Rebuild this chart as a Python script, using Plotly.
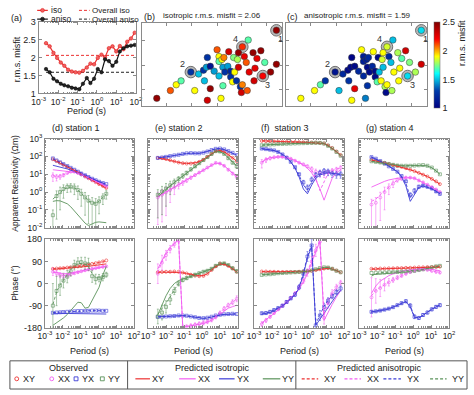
import plotly.graph_objects as go

W, H = 474, 395
FONT = "Liberation Sans, Arial, sans-serif"

# ---------------- panel (a): misfit vs period ----------------
MISFIT_PERIOD = [0.0024, 0.0037, 0.0058, 0.0089, 0.0138, 0.021, 0.033, 0.051, 0.079, 0.123,
                 0.19, 0.30, 0.46, 0.71, 1.1, 1.7, 2.6, 4.1, 6.3, 9.8, 15, 23, 36, 56, 87]
MISFIT_ISO = [2.40, 2.31, 2.13, 1.99, 1.86, 1.77, 1.66, 1.61, 1.59, 1.58, 1.63, 1.72, 1.83, 1.81,
              1.99, 2.08, 2.01, 2.26, 2.31, 2.17, 2.32, 2.23, 2.44, 2.53, 2.69]
MISFIT_ANISO = [1.68, 1.59, 1.41, 1.34, 1.27, 1.23, 1.20, 1.16, 1.14, 1.12, 1.27, 1.43, 1.29, 1.41,
                1.68, 1.59, 1.95, 1.90, 1.77, 1.88, 2.17, 2.26, 2.31, 2.33, 2.35]
OVERALL_ISO = 2.06
OVERALL_ANISO = 1.59

# ---------------- panels (b),(c): station maps ----------------
STA_X = [7, 21, 27, 32, 42, 46, 50, 55, 56, 58, 59, 62, 62, 59, 66, 69, 71, 71, 71, 73,
         74, 75, 75, 76, 77, 80, 81, 83, 83, 85, 86, 87, 89, 90, 91, 91, 93, 94, 95, 95,
         97, 99, 100, 101, 102, 106, 107, 108, 110, 114, 116, 118, 124, 130, 130]
STA_Y = [8, 16, 22, 26, 35, 16, 33, 37, 26, 40, 50, 41, 18, 6, 36, 58, 51, 46, 31, 8,
         48, 40, 21, 50, 35, 41, 56, 36, 30, 25, 50, 35, 26, 48, 55, 40, 20, 14, 22, 61,
         51, 45, 16, 68, 35, 55, 26, 39, 49, 57, 31, 45, 35, 43, 78]
STA_MISFIT_ISO = [2.45, 2.1, 1.9, 1.7, 1.25, 1.9, 1.5, 1.25, 1.5, 1.45, 1.25, 1.1, 2.45, 2.3, 1.45,
                  2.1, 1.9, 1.7, 1.5, 1.9, 1.9, 1.45, 1.7, 2.05, 1.25, 1.45, 2.3, 1.2, 1.25, 1.9,
                  1.75, 1.9, 1.25, 1.8, 2.45, 2.3, 1.25, 2.3, 2.05, 2.15, 2.25, 2.1, 2.1, 1.7, 2.25,
                  2.45, 2.3, 2.25, 2.25, 2.45, 2.2, 1.7, 2.45, 2.45, 2.45]
STA_MISFIT_ANISO = [1.9, 1.9, 1.7, 1.25, 1.1, 1.5, 1.2, 1.05, 1.25, 1.05, 1.02, 1.05, 2.25, 1.9, 1.2,
                    1.9, 1.15, 1.15, 1.2, 1.4, 1.15, 1.05, 1.25, 1.2, 1.05, 1.2, 1.9, 1.05, 1.05, 1.7,
                    1.05, 1.5, 1.9, 1.85, 1.9, 1.5, 1.8, 1.05, 1.9, 1.85, 1.2, 1.5, 1.8, 1.5, 1.9,
                    1.8, 1.9, 1.9, 1.7, 2.3, 1.55, 1.75, 1.8, 2.3, 1.55]
LABELLED_NAMES = ["1", "2", "3", "4"]
LABELLED_INDEX = [54, 4, 50, 39]

# ---------------- MT responses ----------------
S1_T = [0.0028, 0.0045, 0.0071, 0.011, 0.018, 0.028, 0.045, 0.071, 0.11, 0.18, 0.28, 0.45, 0.71, 1.1, 1.8, 2.8]
S1_RHO_OBS = {"XY": [70, 55, 44, 34, 26, 20, 16, 12.5, 9.8, 7.5, 6.0, 4.6, 3.6, 2.8, 2.2, 1.7],
              "XX": [8, 7, 7.5, 9, 12, 14, 14, 12, 10, 8, 6.3, 5, 4, 3.2, 2.6, 2.1],
              "YX": [78, 60, 47, 37, 29, 23, 18, 14, 11, 8.8, 7.0, 5.6, 4.6, 3.8, 3.2, 2.8],
              "YY": [0.05, 0.6, 1.0, 1.5, 1.9, 2.0, 1.8, 1.3, 0.8, 0.5, 0.33, 0.25, 0.22, 0.3, 0.5, 0.8]}
S1_RHO_ERR = {"XX": [0.5, 0.4, 0.3, 0.2, 0.15, 0.1, 0.1, 0.1, 0.1, 0.1, 0.1, 0.1, 0.1, 0.1, 0.1, 0.1],
              "YY": [0.98, 0.95, 0.9, 0.7, 0.5, 0.5, 0.6, 0.7, 0.8, 0.9, 0.95, 0.96, 0.95, 0.8, 0.6, 0.5]}
S1_RHO_ISO = {"XY": [68, 54, 43, 34, 27, 21, 16.5, 13, 10, 7.8, 6.0, 4.6, 3.6, 2.8, 2.1, 1.6],
              "XX": [18, 17, 16.5, 16, 15, 14, 13, 11.5, 9.8, 8, 6.4, 5, 4, 3.2, 2.6, 2.1],
              "YX": [32, 29, 26, 23, 20, 17, 14.5, 12, 10, 8.3, 6.8, 5.6, 4.6, 3.8, 3.2, 2.7],
              "YY": [0.3, 0.33, 0.32, 0.28, 0.22, 0.15, 0.09, 0.05, 0.03, 0.018, 0.013, 0.016, 0.02, 0.021, 0.02, 0.019]}
S1_RHO_ANI = {"XY": [72, 56, 44, 34, 26, 20, 16, 12.5, 9.8, 7.5, 6.0, 4.6, 3.6, 2.8, 2.2, 1.7],
              "XX": [8.5, 7.5, 8, 9.5, 12, 13.5, 13.5, 12, 10, 8, 6.3, 5, 4, 3.2, 2.6, 2.1],
              "YX": [76, 60, 47, 37, 29, 23, 18, 14, 11, 8.8, 7.0, 5.6, 4.6, 3.8, 3.2, 2.8],
              "YY": [0.4, 0.6, 0.95, 1.4, 1.8, 1.9, 1.7, 1.3, 0.85, 0.5, 0.32, 0.25, 0.24, 0.3, 0.5, 0.8]}
S1_PHS_OBS = {"XY": [60, 61, 62, 63, 65, 66, 68, 70, 72, 75, 77, 80, 83, 86, 90, 94],
              "XX": [48, 42, 34, 30, 33, 38, 42, 46, 50, 54, 57, 60, 63, 66, 68, 70],
              "YX": [-119, -118, -117, -116, -115, -114, -113, -112, -112, -111, -111, -110, -110, -110, -111, -111],
              "YY": [-90, -30, -8, 12, 28, 50, 75, 85, 87, 82, 78, 30, 18, 22, 26, 36]}
S1_PHS_ERR = {"XX": [15, 12, 10, 8, 6, 5, 4, 4, 4, 4, 4, 4, 4, 4, 4, 4],
              "YY": [90, 60, 40, 30, 25, 20, 20, 20, 20, 25, 25, 25, 20, 15, 15, 10]}
S1_PHS_ISO = {"XY": [58, 59, 60, 61, 62, 63, 64, 66, 67, 69, 70, 72, 74, 76, 78, 80],
              "XX": [48, 45, 42, 40, 40, 42, 45, 48, 51, 54, 57, 60, 63, 66, 68, 70],
              "YX": [-121, -121, -122, -122, -122, -123, -123, -123, -124, -124, -124, -124, -124, -124, -124, -124],
              "YY": [-170, -160, -150, -140, -126, -110, -90, -76, -78, -100, -97, -70, -45, -15, 35, 70]}
S1_PHS_ANI = {"XY": [60, 61, 62, 63, 64, 66, 68, 70, 72, 75, 77, 80, 83, 86, 89, 93],
              "XX": [47, 41, 35, 32, 34, 38, 42, 46, 50, 54, 57, 60, 63, 66, 68, 70],
              "YX": [-118, -117, -116, -115, -114, -114, -113, -112, -112, -111, -111, -110, -110, -110, -110, -111],
              "YY": [-85, -35, -5, 15, 35, 55, 72, 80, 82, 78, 70, 40, 25, 23, 27, 35]}

S2_T = [0.0035, 0.006, 0.01, 0.017, 0.029, 0.05, 0.085, 0.14, 0.24, 0.41, 0.7, 1.2, 2.0, 3.4, 5.8, 10, 17, 29, 50, 85]
S2_RHO_OBS = {"XY": [83, 80, 72, 62, 53, 46, 42, 40, 40, 42, 50, 65, 95, 140, 200, 220, 190, 130, 85, 55],
              "XX": [0.5, 0.7, 0.95, 1.3, 1.8, 2.5, 3.4, 4.6, 6.5, 9, 12.5, 17, 24, 33, 44, 40, 30, 18, 11, 7],
              "YX": [83, 88, 95, 105, 115, 125, 140, 150, 155, 150, 150, 165, 190, 230, 270, 280, 250, 200, 160, 120],
              "YY": [0.7, 1.07, 1.6, 2.4, 3.6, 5.5, 8.3, 12, 19, 28, 42, 63, 93, 140, 200, 190, 140, 80, 45, 28]}
S2_RHO_ERR = {"XX": [0.97, 0.97, 0.95, 0.8, 0.6, 0.4, 0.3, 0.25, 0.2, 0.15, 0.12, 0.1, 0.1, 0.1, 0.1, 0.1, 0.1, 0.12, 0.15, 0.2],
              "YY": [0.95, 0.95, 0.9, 0.7, 0.5, 0.35, 0.3, 0.25, 0.2, 0.15, 0.1, 0.1, 0.1, 0.1, 0.1, 0.1, 0.1, 0.12, 0.15, 0.2]}
S2_RHO_ISO = {"XY": [85, 78, 70, 60, 52, 46, 42, 41, 41, 44, 52, 68, 98, 145, 195, 210, 180, 125, 82, 55],
              "XX": [0.55, 0.75, 1.0, 1.35, 1.85, 2.5, 3.4, 4.6, 6.4, 8.8, 12, 16.5, 23, 32, 42, 40, 30, 19, 11.5, 7.5],
              "YX": [82, 87, 94, 103, 113, 124, 138, 148, 152, 150, 152, 168, 195, 235, 270, 275, 245, 195, 155, 118],
              "YY": [0.55, 0.9, 1.4, 2.2, 3.4, 5.2, 8, 12, 18, 27, 40, 60, 90, 135, 190, 185, 140, 85, 48, 30]}
S2_RHO_ANI = {"XY": [83, 79, 71, 62, 53, 46, 42, 40, 40, 43, 51, 66, 96, 142, 198, 218, 188, 130, 85, 56],
              "XX": [0.5, 0.7, 0.95, 1.3, 1.8, 2.5, 3.4, 4.6, 6.5, 9, 12.5, 17, 24, 33, 44, 41, 30, 18, 11, 7],
              "YX": [83, 88, 95, 105, 115, 126, 140, 150, 154, 150, 151, 166, 192, 232, 270, 280, 250, 200, 158, 120],
              "YY": [0.7, 1.05, 1.6, 2.4, 3.6, 5.5, 8.3, 12, 19, 28, 42, 63, 93, 140, 198, 190, 140, 82, 46, 28]}
S2_PHS_OBS = {"XY": [46, 47, 48, 48, 49, 48, 45, 41, 36, 32, 30, 31, 40, 55, 70, 82, 80, 72, 62, 48],
              "XX": [40, 85, 115, 140, 160, 176, -178, -176, -172, -168, -164, -160, -155, -148, -136, -120, -102, -88, -76, -62],
              "YX": [-136, -135, -134, -133, -132, -130, -130, -131, -134, -137, -140, -141, -139, -135, -130, -127, -125, -124, -123, -124],
              "YY": [-134, -118, -95, -65, -30, 0, 15, 22, 30, 36, 42, 48, 52, 60, 72, 80, 82, 75, 62, 50]}
S2_PHS_ERR = {"XX": [40, 30, 20, 15, 12, 10, 10, 8, 8, 8, 8, 8, 8, 8, 8, 8, 8, 8, 10, 12],
              "YY": [30, 30, 25, 20, 15, 10, 8, 6, 5, 5, 4, 4, 4, 4, 4, 4, 4, 4, 5, 6]}
S2_PHS_ISO = {"XY": [47, 47, 47, 47, 47, 46, 44, 41, 37, 34, 32, 33, 40, 54, 68, 78, 78, 70, 60, 48],
              "XX": [60, 95, 125, 148, 165, 179, -177, -175, -172, -169, -166, -163, -158, -150, -138, -124, -110, -100, -94, -88],
              "YX": [-135, -134, -133, -132, -131, -130, -130, -132, -135, -138, -141, -142, -140, -136, -131, -128, -126, -125, -124, -124],
              "YY": [-127, -85, -50, -20, 0, 12, 18, 23, 28, 34, 40, 46, 52, 60, 72, 80, 82, 75, 62, 50]}
S2_PHS_ANI = {"XY": [46, 47, 48, 48, 48, 47, 45, 41, 36, 32, 30, 31, 40, 55, 70, 81, 80, 72, 62, 48],
              "XX": [45, 88, 118, 142, 162, 177, -178, -176, -172, -168, -164, -160, -155, -147, -135, -119, -102, -88, -76, -63],
              "YX": [-136, -135, -134, -133, -131, -130, -130, -131, -134, -137, -140, -141, -139, -135, -130, -127, -125, -124, -123, -123],
              "YY": [-125, -100, -80, -55, -25, 0, 15, 22, 30, 36, 42, 48, 52, 60, 72, 80, 82, 75, 62, 50]}

S3_T = [0.0027, 0.0046, 0.0078, 0.013, 0.022, 0.038, 0.065, 0.11, 0.19, 0.32, 0.55, 0.93, 1.6, 2.7, 4.6, 7.8, 13, 22, 38, 65]
S3_RHO_OBS = {"XY": [750, 730, 720, 700, 690, 680, 670, 660, 650, 640, 630, 620, 610, 600, 580, 540, 420, 300, 190, 120],
              "XX": [45, 65, 80, 90, 95, 95, 88, 75, 58, 45, 36, 28, 20, 14, 12, 11, 13, 16, 19, 23],
              "YX": [280, 260, 240, 220, 180, 130, 85, 50, 25, 10, 3.5, 1.8, 5, 9, 12, 15, 14, 11, 10, 10],
              "YY": [430, 450, 470, 480, 500, 510, 520, 530, 540, 550, 560, 570, 580, 590, 580, 530, 400, 280, 180, 110]}
S3_RHO_ERR = {"XX": [0.5, 0.3, 0.2, 0.15, 0.1, 0.1, 0.1, 0.1, 0.1, 0.1, 0.15, 0.2, 0.3, 0.4, 0.4, 0.4, 0.3, 0.3, 0.3, 0.3],
              "YX": [0.05, 0.05, 0.05, 0.05, 0.05, 0.05, 0.06, 0.08, 0.1, 0.15, 0.3, 0.4, 0.4, 0.4, 0.4, 0.4, 0.4, 0.4, 0.4, 0.4]}
S3_RHO_ISO = {"XY": [760, 740, 720, 700, 690, 680, 670, 660, 650, 640, 630, 620, 610, 600, 580, 530, 420, 300, 190, 120],
              "XX": [50, 70, 85, 92, 95, 94, 88, 75, 60, 45, 33, 22, 12, 5, 1.5, 0.35, 1.5, 6, 12, 18],
              "YX": [270, 255, 240, 215, 180, 135, 90, 50, 22, 7, 1.5, 0.8, 2.5, 6, 9, 11, 12, 11, 10, 10],
              "YY": [440, 455, 470, 485, 500, 510, 520, 530, 540, 550, 560, 570, 580, 585, 575, 525, 400, 280, 180, 110]}
S3_RHO_ANI = {"XY": [750, 730, 720, 700, 690, 680, 670, 660, 650, 640, 630, 620, 610, 600, 580, 540, 420, 300, 190, 120],
              "XX": [45, 65, 80, 90, 95, 95, 88, 75, 58, 45, 36, 28, 18, 6, 1.2, 4, 11, 16, 19, 23],
              "YX": [280, 260, 240, 220, 180, 130, 85, 48, 24, 9, 2.5, 1.3, 4, 8, 11, 14, 14, 11, 10, 10],
              "YY": [430, 450, 470, 480, 500, 510, 520, 530, 540, 550, 560, 570, 580, 590, 580, 530, 400, 280, 180, 110]}
S3_PHS_OBS = {"XY": [49, 49, 48, 48, 47, 47, 47, 47, 47, 48, 49, 50, 52, 55, 58, 61, 63, 60, 53, 46],
              "XX": [-165, -150, -135, -120, -105, -90, -75, -58, -40, -15, 10, 45, 90, 135, 170, -140, -80, -40, -15, 3],
              "YX": [-121, -120, -115, -108, -100, -90, -75, -60, -45, -15, 40, 110, 155, -170, -130, -95, -70, -52, -35, -20],
              "YY": [35, 37, 38, 40, 42, 43, 44, 45, 46, 47, 48, 50, 53, 58, 63, 66, 65, 60, 52, 46]}
S3_PHS_ERR = {"XX": [10, 8, 6, 5, 5, 5, 5, 5, 6, 8, 10, 15, 20, 25, 25, 25, 20, 15, 12, 10],
              "YX": [5, 5, 5, 5, 5, 5, 5, 6, 8, 10, 15, 20, 25, 25, 20, 15, 12, 10, 10, 10]}
S3_PHS_ISO = {"XY": [48, 48, 47, 47, 46, 46, 46, 46, 46, 47, 48, 50, 52, 54, 57, 60, 62, 59, 52, 45],
              "XX": [-160, -148, -135, -122, -108, -94, -80, -64, -46, -22, 5, 40, 85, 130, 172, -150, -115, -85, -55, -28],
              "YX": [-125, -123, -118, -110, -102, -92, -78, -62, -46, -18, 35, 105, 150, -170, -145, -120, -95, -70, -48, -28],
              "YY": [36, 37, 38, 40, 42, 43, 44, 45, 46, 47, 48, 50, 53, 58, 63, 66, 65, 60, 52, 46]}
S3_PHS_ANI = {"XY": [49, 49, 48, 48, 47, 47, 47, 47, 47, 48, 49, 50, 52, 55, 58, 61, 63, 60, 53, 46],
              "XX": [-165, -150, -135, -120, -105, -90, -75, -58, -40, -15, 12, 48, 95, 140, 175, -130, -75, -38, -14, 3],
              "YX": [-121, -120, -115, -108, -100, -90, -75, -60, -44, -13, 42, 112, 158, -165, -125, -92, -68, -50, -34, -20],
              "YY": [35, 37, 38, 40, 42, 43, 44, 45, 46, 47, 48, 50, 53, 58, 63, 66, 65, 60, 52, 46]}

S4_T = [0.0049, 0.0085, 0.015, 0.026, 0.045, 0.078, 0.135, 0.23, 0.4, 0.7, 1.2, 2.1, 3.6, 6.3, 11, 19, 31]
S4_RHO_OBS = {"XY": [65, 58, 50, 44, 38, 33, 29, 26, 22, 18, 15, 12, 9.5, 7.5, 5.5, 4, 2.8],
              "XX": [0.2, 0.25, 0.5, 1.0, 1.8, 3.0, 4.8, 5.8, 6.5, 6.5, 6.0, 4.5, 3.5, 2.6, 1.9, 1.4, 1.0],
              "YX": [92, 75, 55, 40, 28, 20, 14, 8, 4, 0.7, 1.2, 2.0, 2.3, 2.0, 1.6, 1.1, 0.8],
              "YY": [54, 50, 46, 42, 38, 34, 31, 30, 30, 30, 31, 32, 33, 30, 24, 16, 10]}
S4_RHO_ERR = {"XX": [0.97, 0.97, 0.95, 0.9, 0.6, 0.4, 0.25, 0.2, 0.15, 0.12, 0.1, 0.1, 0.1, 0.1, 0.1, 0.1, 0.1],
              "YX": [0.05, 0.05, 0.05, 0.05, 0.05, 0.05, 0.06, 0.08, 0.15, 0.3, 0.3, 0.2, 0.15, 0.15, 0.15, 0.15, 0.15]}
S4_RHO_ISO = {"XY": [63, 57, 50, 44, 38, 33, 29, 26, 22, 18, 15, 12, 9.5, 7.5, 5.5, 4, 2.8],
              "XX": [1.9, 2.5, 3.2, 4, 4.8, 5.5, 6, 6.3, 6.5, 6.4, 6, 4.6, 3.5, 2.6, 1.9, 1.4, 1.0],
              "YX": [92, 72, 54, 40, 29, 21, 14, 7, 2.2, 0.3, 0.7, 1.8, 2.2, 1.9, 1.5, 1.1, 0.8],
              "YY": [52, 48, 45, 41, 37, 34, 31, 30, 30, 30, 31, 32, 32, 29, 23, 16, 10]}
S4_RHO_ANI = {"XY": [64, 58, 50, 44, 38, 33, 29, 26, 22, 18, 15, 12, 9.5, 7.5, 5.5, 4, 2.8],
              "XX": [0.3, 0.4, 0.7, 1.2, 2.0, 3.1, 4.7, 5.8, 6.5, 6.5, 6.0, 4.5, 3.5, 2.6, 1.9, 1.4, 1.0],
              "YX": [92, 74, 55, 40, 28, 20, 14, 7.5, 3.2, 0.5, 1.0, 2.0, 2.3, 2.0, 1.6, 1.1, 0.8],
              "YY": [54, 50, 46, 42, 38, 34, 31, 30, 30, 30, 31, 32, 33, 30, 24, 16, 10]}
S4_PHS_OBS = {"XY": [60, 60, 61, 61, 62, 62, 63, 63, 64, 64, 65, 66, 66, 67, 67, 68, 69],
              "XX": [-56, -30, -18, -5, 5, 15, 24, 32, 40, 47, 52, 56, 58, 56, 52, 48, 45],
              "YX": [-115, -113, -110, -106, -102, -96, -88, -80, -72, -90, -135, -140, -128, -118, -105, -95, -88],
              "YY": [43, 44, 45, 45, 46, 46, 47, 48, 49, 50, 52, 55, 58, 62, 66, 70, 72]}
S4_PHS_ERR = {"XX": [80, 50, 35, 25, 15, 10, 8, 6, 5, 5, 5, 5, 5, 5, 5, 5, 5],
              "YX": [4, 4, 4, 4, 4, 4, 4, 5, 6, 8, 8, 6, 6, 6, 6, 6, 6]}
S4_PHS_ISO = {"XY": [58, 59, 60, 60, 61, 61, 62, 62, 63, 63, 64, 65, 65, 66, 66, 67, 67],
              "XX": [-40, -10, 10, 22, 32, 40, 46, 50, 53, 56, 58, 59, 60, 60, 58, 55, 52],
              "YX": [-116, -114, -111, -107, -103, -97, -89, -81, -74, -95, -138, -140, -127, -117, -104, -94, -87],
              "YY": [36, 37, 38, 39, 40, 41, 43, 45, 47, 49, 51, 54, 57, 61, 65, 69, 71]}
S4_PHS_ANI = {"XY": [60, 60, 61, 61, 62, 62, 63, 63, 64, 64, 65, 66, 66, 67, 67, 68, 69],
              "XX": [-50, -28, -16, -4, 6, 15, 24, 32, 40, 47, 52, 56, 58, 56, 52, 48, 45],
              "YX": [-115, -113, -110, -106, -102, -96, -88, -80, -72, -90, -135, -140, -128, -118, -105, -95, -88],
              "YY": [30, 40, 44, 45, 46, 46, 47, 48, 49, 50, 52, 55, 58, 62, 66, 70, 72]}

STATION_TITLES = ["(d) station 1", "(e) station 2", "(f)  station 3", "(g) station 4"]
COMPONENTS = ["XY", "XX", "YX", "YY"]

# ---------------- styles ----------------
COLORS = {"XY": "#ec3030", "XX": "#f25ef2", "YX": "#3c3cd6", "YY": "#5a925a"}
SYMBOLS = {"XY": "circle-open", "XX": "circle-open", "YX": "square-open", "YY": "square-open"}
AXCOL = "#8a8a8a"


def X(p):
    return p / W


def Y(p):
    return 1 - p / H


STATIONS = [
    (S1_T, S1_RHO_OBS, S1_RHO_ERR, S1_RHO_ISO, S1_RHO_ANI, S1_PHS_OBS, S1_PHS_ERR, S1_PHS_ISO, S1_PHS_ANI),
    (S2_T, S2_RHO_OBS, S2_RHO_ERR, S2_RHO_ISO, S2_RHO_ANI, S2_PHS_OBS, S2_PHS_ERR, S2_PHS_ISO, S2_PHS_ANI),
    (S3_T, S3_RHO_OBS, S3_RHO_ERR, S3_RHO_ISO, S3_RHO_ANI, S3_PHS_OBS, S3_PHS_ERR, S3_PHS_ISO, S3_PHS_ANI),
    (S4_T, S4_RHO_OBS, S4_RHO_ERR, S4_RHO_ISO, S4_RHO_ANI, S4_PHS_OBS, S4_PHS_ERR, S4_PHS_ISO, S4_PHS_ANI),
]

fig = go.Figure()

# ---- panel (a)
fig.add_trace(go.Scatter(x=[MISFIT_PERIOD[0], MISFIT_PERIOD[-1]], y=[OVERALL_ISO, OVERALL_ISO],
                         mode="lines", line=dict(color="#ec3030", width=1, dash="3px,2px"),
                         xaxis="x", yaxis="y", showlegend=False))
fig.add_trace(go.Scatter(x=[MISFIT_PERIOD[0], MISFIT_PERIOD[-1]], y=[OVERALL_ANISO, OVERALL_ANISO],
                         mode="lines", line=dict(color="#222", width=1, dash="3px,2px"),
                         xaxis="x", yaxis="y", showlegend=False))
fig.add_trace(go.Scatter(x=MISFIT_PERIOD, y=MISFIT_ISO, mode="lines+markers",
                         line=dict(color="#ec3030", width=1.2),
                         marker=dict(size=3.5, color="#f06060", line=dict(color="#e02020", width=0.6)),
                         xaxis="x", yaxis="y", showlegend=False))
fig.add_trace(go.Scatter(x=MISFIT_PERIOD, y=MISFIT_ANISO, mode="lines+markers",
                         line=dict(color="#111", width=1.2),
                         marker=dict(size=3.5, color="#222", line=dict(color="#000", width=0.5)),
                         xaxis="x", yaxis="y", showlegend=False))

# ---- panels (b),(c)
for ax, vals in (("2", STA_MISFIT_ISO), ("3", STA_MISFIT_ANISO)):
    fig.add_trace(go.Scatter(x=[STA_X[i] for i in LABELLED_INDEX], y=[STA_Y[i] for i in LABELLED_INDEX],
                             mode="markers",
                             marker=dict(size=11.5, color="#b8b8b8", line=dict(color="#707070", width=1)),
                             xaxis="x" + ax, yaxis="y" + ax, showlegend=False))
    fig.add_trace(go.Scatter(x=STA_X, y=STA_Y, mode="markers",
                             marker=dict(size=6.5, color=vals, coloraxis="coloraxis",
                                         line=dict(color="#3a3a3a", width=0.5)),
                             xaxis="x" + ax, yaxis="y" + ax, showlegend=False))

# ---- MT panels
for k, (T, ro, re, ri, ra, po, pe, pi, pa) in enumerate(STATIONS):
    xr, yr = "x%d" % (4 + k), "y%d" % (4 + k)
    xp, yp = "x%d" % (8 + k), "y%d" % (8 + k)
    for comp in COMPONENTS:
        c = COLORS[comp]
        err = None
        if comp in re:
            err = dict(type="data", array=[v * r for v, r in zip(ro[comp], re[comp])],
                       color=c, thickness=0.5, width=1)
        fig.add_trace(go.Scatter(x=T, y=ro[comp], mode="markers",
                                 marker=dict(symbol=SYMBOLS[comp], size=3, color=c, line=dict(width=0.6)),
                                 error_y=err, xaxis=xr, yaxis=yr, showlegend=False))
        errp = None
        if comp in pe:
            errp = dict(type="data", array=pe[comp], color=c, thickness=0.5, width=1)
        fig.add_trace(go.Scatter(x=T, y=po[comp], mode="markers",
                                 marker=dict(symbol=SYMBOLS[comp], size=3, color=c, line=dict(width=0.6)),
                                 error_y=errp, xaxis=xp, yaxis=yp, showlegend=False))
    for comp in COMPONENTS:
        c = COLORS[comp]
        fig.add_trace(go.Scatter(x=T, y=ri[comp], mode="lines", line=dict(color=c, width=0.9),
                                 xaxis=xr, yaxis=yr, showlegend=False))
        fig.add_trace(go.Scatter(x=T, y=pi[comp], mode="lines", line=dict(color=c, width=0.9),
                                 xaxis=xp, yaxis=yp, showlegend=False))
    for comp in COMPONENTS:
        c = COLORS[comp]
        fig.add_trace(go.Scatter(x=T, y=ra[comp], mode="lines", line=dict(color=c, width=0.9, dash="3px,2px"),
                                 xaxis=xr, yaxis=yr, showlegend=False))
        fig.add_trace(go.Scatter(x=T, y=pa[comp], mode="lines", line=dict(color=c, width=0.9, dash="3px,2px"),
                                 xaxis=xp, yaxis=yp, showlegend=False))

# ---------------- axes ----------------
DEC_VALS = [1e-3, 1e-2, 1e-1, 1e0, 1e1, 1e2]
DEC_TEXT = ["10<sup>-3</sup>", "10<sup>-2</sup>", "10<sup>-1</sup>", "10<sup>0</sup>", "10<sup>1</sup>", "10<sup>2</sup>"]
RHO_VALS = [1e-2, 1e-1, 1e0, 1e1, 1e2, 1e3]
RHO_TEXT = ["10<sup>-2</sup>", "10<sup>-1</sup>", "10<sup>0</sup>", "10<sup>1</sup>", "10<sup>2</sup>", "10<sup>3</sup>"]


def minor_vals(lo, hi):
    out = []
    for e in range(lo, hi):
        for m in range(2, 10):
            out.append(m * 10.0 ** e)
    return out


BASE = dict(showline=True, mirror="ticks", linecolor=AXCOL, linewidth=1, ticks="inside",
            tickcolor=AXCOL, ticklen=3, showgrid=False, zeroline=False, tickangle=0,
            tickfont=dict(size=9, color="#222", family=FONT))


def logx(domain, labels):
    return dict(BASE, type="log", range=[-3, 2], domain=domain, tickmode="array", tickvals=DEC_VALS,
                ticktext=DEC_TEXT, showticklabels=labels, tickfont=dict(size=8.5, color="#222", family=FONT),
                minor=dict(ticks="inside", ticklen=1.5, tickcolor=AXCOL, tickmode="array",
                           tickvals=minor_vals(-3, 2)))


lay = {}
lay["xaxis"] = dict(logx([X(32.5), X(132.5)], True), anchor="y")
lay["yaxis"] = dict(BASE, range=[1, 3], domain=[Y(90), Y(16)], tickvals=[1, 1.5, 2, 2.5, 3],
                    ticktext=["1", "1.5", "2", "2.5", "3"], anchor="x")
for ax, (l, r) in (("2", (139, 283)), ("3", (287, 432))):
    lay["xaxis" + ax] = dict(BASE, range=[-8, 136], domain=[X(l), X(r)], anchor="y" + ax,
                             tickvals=[17, 43, 69, 94, 120], showticklabels=False)
    lay["yaxis" + ax] = dict(BASE, range=[0, 86], domain=[Y(103), Y(17)], anchor="x" + ax,
                             tickvals=[17, 42, 68], showticklabels=False)
PANEL_X = [(39, 130.5), (145, 237.5), (254, 346.5), (362, 454.5)]
for k, (l, r) in enumerate(PANEL_X):
    n_r, n_p = 4 + k, 8 + k
    lay["xaxis%d" % n_r] = dict(logx([X(l), X(r)], False), anchor="y%d" % n_r)
    lay["yaxis%d" % n_r] = dict(BASE, type="log", range=[-2, 3], domain=[Y(228), Y(136.5)],
                                anchor="x%d" % n_r, tickmode="array", tickvals=RHO_VALS, ticktext=RHO_TEXT,
                                showticklabels=(k == 0), tickfont=dict(size=8.5, color="#222", family=FONT),
                                minor=dict(ticks="inside", ticklen=1.5, tickcolor=AXCOL, tickmode="array",
                                           tickvals=minor_vals(-2, 3)))
    lay["xaxis%d" % n_p] = dict(logx([X(l), X(r)], True), anchor="y%d" % n_p)
    lay["yaxis%d" % n_p] = dict(BASE, range=[-180, 180], domain=[Y(331), Y(240)], anchor="x%d" % n_p,
                                tickvals=[-180, -90, 0, 90, 180],
                                ticktext=["-180", "-90", "0", "90", "180"], showticklabels=(k == 0))

# ---------------- annotations ----------------
ann = []


def text(x, y, s, size=9, anchor="left", angle=0, color="#222"):
    ann.append(dict(x=X(x), y=Y(y), xref="paper", yref="paper", text=s, showarrow=False,
                    xanchor=anchor, yanchor="middle", textangle=angle, borderpad=0,
                    font=dict(size=size, color=color, family=FONT)))


text(3, 12, "(a)")
text(140, 11, "(b)")
text(287, 11, "(c)")
text(211, 10, "isotropic r.m.s. misfit = 2.06", size=8, anchor="center")
text(360, 10, "anisotropic r.m.s. misfit = 1.59", size=8, anchor="center")
text(11, 55, "r.m.s. misfit", angle=-90, anchor="center")
text(82, 108, "Period (s)", anchor="center")
text(468, 38, "r.m.s. misfit", angle=-90, anchor="center")
text(44, 4.5, "iso", size=8.5)
text(44, 13.5, "aniso", size=8.5)
text(86, 4.5, "Overall iso", size=8)
text(86, 13.5, "Overall aniso", size=8)
for k, (l, r) in enumerate(PANEL_X):
    text(l + 6, 125, STATION_TITLES[k], anchor="left")
    text((l + r) / 2, 355, "Period (s)", anchor="center")
text(8, 182, "Apparent Resistivity (Ωm)", size=8.5, angle=-90, anchor="center")
text(8, 285, "Phase (°)", size=8.5, angle=-90, anchor="center")

LABEL_SHIFT = [(4, -9), (-8, 8), (5, -9), (-7, 8)]
for ax in ("2", "3"):
    for name, idx, (dx, dy) in zip(LABELLED_NAMES, LABELLED_INDEX, LABEL_SHIFT):
        ann.append(dict(x=STA_X[idx], y=STA_Y[idx], xref="x" + ax, yref="y" + ax, text=name,
                        showarrow=False, xshift=dx, yshift=dy,
                        font=dict(size=9, color="#333", family=FONT)))

text(63, 372, "Observed", anchor="center")
text(211, 372, "Predicted isotropic", anchor="center")
text(383, 372, "Predicted anisotropic", anchor="center")
shapes = []
shapes.append(dict(type="rect", xref="paper", yref="paper", x0=X(3), x1=X(473), y0=Y(394), y1=Y(365),
                   line=dict(color="#555", width=1)))
for xd in (124, 297):
    shapes.append(dict(type="line", xref="paper", yref="paper", x0=X(xd), x1=X(xd), y0=Y(394), y1=Y(365),
                       line=dict(color="#555", width=1)))
LEG_Y = 383.5
OBS_POS = [10, 46, 71, 98]
ISO_POS = [(132, 147), (177, 194), (218, 234), (263, 281)]
ANI_POS = [(303, 320), (347, 364), (387, 405), (435, 452)]
for comp, xo, (a0, a1), (b0, b1) in zip(COMPONENTS, OBS_POS, ISO_POS, ANI_POS):
    c = COLORS[comp]
    kind = "circle" if SYMBOLS[comp].startswith("circle") else "rect"
    shapes.append(dict(type=kind, xref="paper", yref="paper", x0=X(xo - 2), x1=X(xo + 2),
                       y0=Y(LEG_Y + 2), y1=Y(LEG_Y - 2), line=dict(color=c, width=0.9)))
    text(xo + 5, LEG_Y, comp)
    shapes.append(dict(type="line", xref="paper", yref="paper", x0=X(a0), x1=X(a1), y0=Y(LEG_Y), y1=Y(LEG_Y),
                       line=dict(color=c, width=1.2)))
    text(a1 + 1, LEG_Y, comp)
    shapes.append(dict(type="line", xref="paper", yref="paper", x0=X(b0), x1=X(b1), y0=Y(LEG_Y), y1=Y(LEG_Y),
                       line=dict(color=c, width=1.2, dash="3px,2px")))
    text(b1 + 5, LEG_Y, comp)
shapes.append(dict(type="line", xref="paper", yref="paper", x0=X(31), x1=X(42), y0=Y(4.5), y1=Y(4.5),
                   line=dict(color="#ec3030", width=1.2)))
shapes.append(dict(type="circle", xref="paper", yref="paper", x0=X(34.5), x1=X(38.5), y0=Y(6.5), y1=Y(2.5),
                   fillcolor="#f06060", line=dict(color="#e02020", width=0.6)))
shapes.append(dict(type="line", xref="paper", yref="paper", x0=X(31), x1=X(42), y0=Y(13.5), y1=Y(13.5),
                   line=dict(color="#111", width=1.2)))
shapes.append(dict(type="circle", xref="paper", yref="paper", x0=X(34.5), x1=X(38.5), y0=Y(15.5), y1=Y(11.5),
                   fillcolor="#222", line=dict(color="#000", width=0.5)))
shapes.append(dict(type="line", xref="paper", yref="paper", x0=X(74), x1=X(85), y0=Y(4.5), y1=Y(4.5),
                   line=dict(color="#ec3030", width=1, dash="3px,2px")))
shapes.append(dict(type="line", xref="paper", yref="paper", x0=X(74), x1=X(85), y0=Y(13.5), y1=Y(13.5),
                   line=dict(color="#222", width=1, dash="3px,2px")))

lay.update(dict(
    width=W, height=H, margin=dict(l=0, r=0, t=0, b=0), paper_bgcolor="white", plot_bgcolor="white",
    font=dict(family=FONT, size=9, color="#222"), showlegend=False,
    annotations=ann, shapes=shapes,
    coloraxis=dict(cmin=1, cmax=2.5, colorscale="Jet",
                   colorbar=dict(x=X(439), xanchor="left", xpad=0, ypad=0, y=Y(61), yanchor="middle",
                                 len=88 / H, lenmode="fraction", thickness=6, thicknessmode="pixels",
                                 tickvals=[1, 1.5, 2, 2.5], ticktext=["1", "1.5", "2", "2.5"],
                                 ticks="", outlinewidth=0.5, outlinecolor="#666",
                                 tickfont=dict(size=9, family=FONT, color="#222"))),
))
fig.update_layout(**lay)
fig.write_html("out.html", config={"displayModeBar": False, "staticPlot": True},
               post_script="document.body.style.margin='0px';document.body.style.overflow='hidden';")
